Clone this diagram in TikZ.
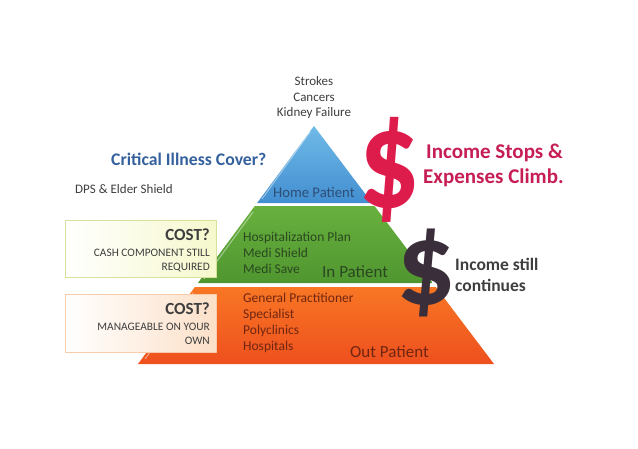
\documentclass[tikz,border=0pt]{standalone}
\usepackage{fontspec}
\setmainfont{Carlito}
\usepackage{graphicx}
\definecolor{critblue}{RGB}{52,96,158}
\definecolor{boxgray}{RGB}{62,62,62}
\definecolor{homeblue}{RGB}{45,78,118}
\definecolor{ingreen}{RGB}{42,72,32}
\definecolor{outbrown}{RGB}{112,38,18}
\definecolor{stopred}{RGB}{198,30,84}
\definecolor{dollarred}{RGB}{222,28,76}
\definecolor{dollardark}{RGB}{58,46,58}

\begin{document}
\begin{tikzpicture}[x=1pt,y=-1pt,line join=round,
  plain/.style={inner sep=0pt,text=boxgray,font=\fontsize{13}{16}\selectfont},
  tiertext/.style={inner sep=0pt,anchor=base west,font=\fontsize{13.5}{16}\selectfont},
  tiername/.style={inner sep=0pt,anchor=base west,font=\fontsize{17}{20}\selectfont},
  costhead/.style={inner sep=0pt,anchor=base east,text=boxgray,font=\fontsize{17}{20}\selectfont\bfseries},
  costline/.style={inner sep=0pt,anchor=base east,text=boxgray,font=\fontsize{11.4}{14}\selectfont}]
\useasboundingbox (0,0) rectangle (638,448);
% pyramid
\shade[top color={rgb,255:red,112;green,186;blue,232},bottom color={rgb,255:red,66;green,142;blue,208}]
  (314,126) -- (372.2,203) -- (257.1,203) -- cycle;
\shade[top color={rgb,255:red,104;green,176;blue,62},bottom color={rgb,255:red,80;green,150;blue,48}]
  (254.8,206) -- (374.5,206) -- (432.7,283) -- (197.9,283) -- cycle;
\shade[top color={rgb,255:red,248;green,118;blue,36},bottom color={rgb,255:red,238;green,80;blue,30}]
  (194.9,287) -- (435.8,287) -- (494,364) -- (138,364) -- cycle;
\draw[white,opacity=0.45,line width=1pt] (310,132) -- (262,199);
\draw[white,opacity=0.45,line width=1pt] (253,212) -- (204,279);
\draw[white,opacity=0.45,line width=1pt] (193,293) -- (145,359);
% top labels
\node[plain,anchor=base] (strokes) at (314,85) {Strokes};
\node[plain,anchor=base] (cancers) at (314,101) {Cancers};
\node[plain,anchor=base] (kidney) at (314,116) {Kidney Failure};
\node[inner sep=0pt,anchor=base west,text=critblue,font=\fontsize{17.7}{20}\selectfont\bfseries] (critical) at (111,165) {Critical Illness Cover?};
\node[plain,anchor=base west] (dps) at (75,193) {DPS \& Elder Shield};
% tier labels
\node[tiertext,text=homeblue,font=\fontsize{14.7}{16}\selectfont] (home) at (273,197) {Home Patient};
\node[tiertext,text=ingreen] (hosplan) at (243,241) {Hospitalization Plan};
\node[tiertext,text=ingreen] (medishield) at (243,257) {Medi Shield};
\node[tiertext,text=ingreen] (medisave) at (243,273) {Medi Save};
\node[tiername,text=ingreen] (inpatient) at (322,277) {In Patient};
\node[tiertext,text=outbrown] (gp) at (243,302) {General Practitioner};
\node[tiertext,text=outbrown] (specialist) at (243,318) {Specialist};
\node[tiertext,text=outbrown] (polyclinics) at (243,334) {Polyclinics};
\node[tiertext,text=outbrown] (hospitals) at (243,350) {Hospitals};
\node[tiername,text=outbrown] (outpatient) at (350,357) {Out Patient};
% cost boxes
\shade[left color=white,right color={rgb,255:red,246;green,248;blue,204},draw={rgb,255:red,214;green,226;blue,156},line width=0.8pt]
  (65,220) rectangle (216,277);
\node[costhead] (cost1) at (210,240) {COST?};
\node[costline] (cash) at (210,256) {CASH COMPONENT STILL};
\node[costline] (required) at (210,270) {REQUIRED};
\shade[left color=white,right color={rgb,255:red,252;green,224;blue,200},draw={rgb,255:red,246;green,204;blue,170},line width=0.8pt]
  (65,294) rectangle (216,352);
\node[costhead] (cost2) at (210,314) {COST?};
\node[costline] (manage) at (210,330) {MANAGEABLE ON YOUR};
\node[costline] (own) at (210,344) {OWN};
% dollar signs
\node[inner sep=0pt,text=dollarred] (bigdollar) at (389,170) {\scalebox{0.87}[1]{\resizebox*{!}{105pt}{\bfseries\$}}};
\node[inner sep=0pt,text=dollardark] (smalldollar) at (426,273) {\resizebox*{!}{88pt}{\bfseries\$}};
\node[inner sep=0pt,anchor=base west,text=stopred,font=\fontsize{21}{25}\selectfont\bfseries] (stops) at (426,158) {Income Stops \&};
\node[inner sep=0pt,anchor=base west,text=stopred,font=\fontsize{21}{25}\selectfont\bfseries] (climb) at (423,183) {Expenses Climb.};
\node[inner sep=0pt,anchor=base west,text=boxgray,font=\fontsize{17.5}{21}\selectfont\bfseries] (still) at (455,270) {Income still};
\node[inner sep=0pt,anchor=base west,text=boxgray,font=\fontsize{17.5}{21}\selectfont\bfseries] (continues) at (455,291) {continues};
\end{tikzpicture}
\end{document}
